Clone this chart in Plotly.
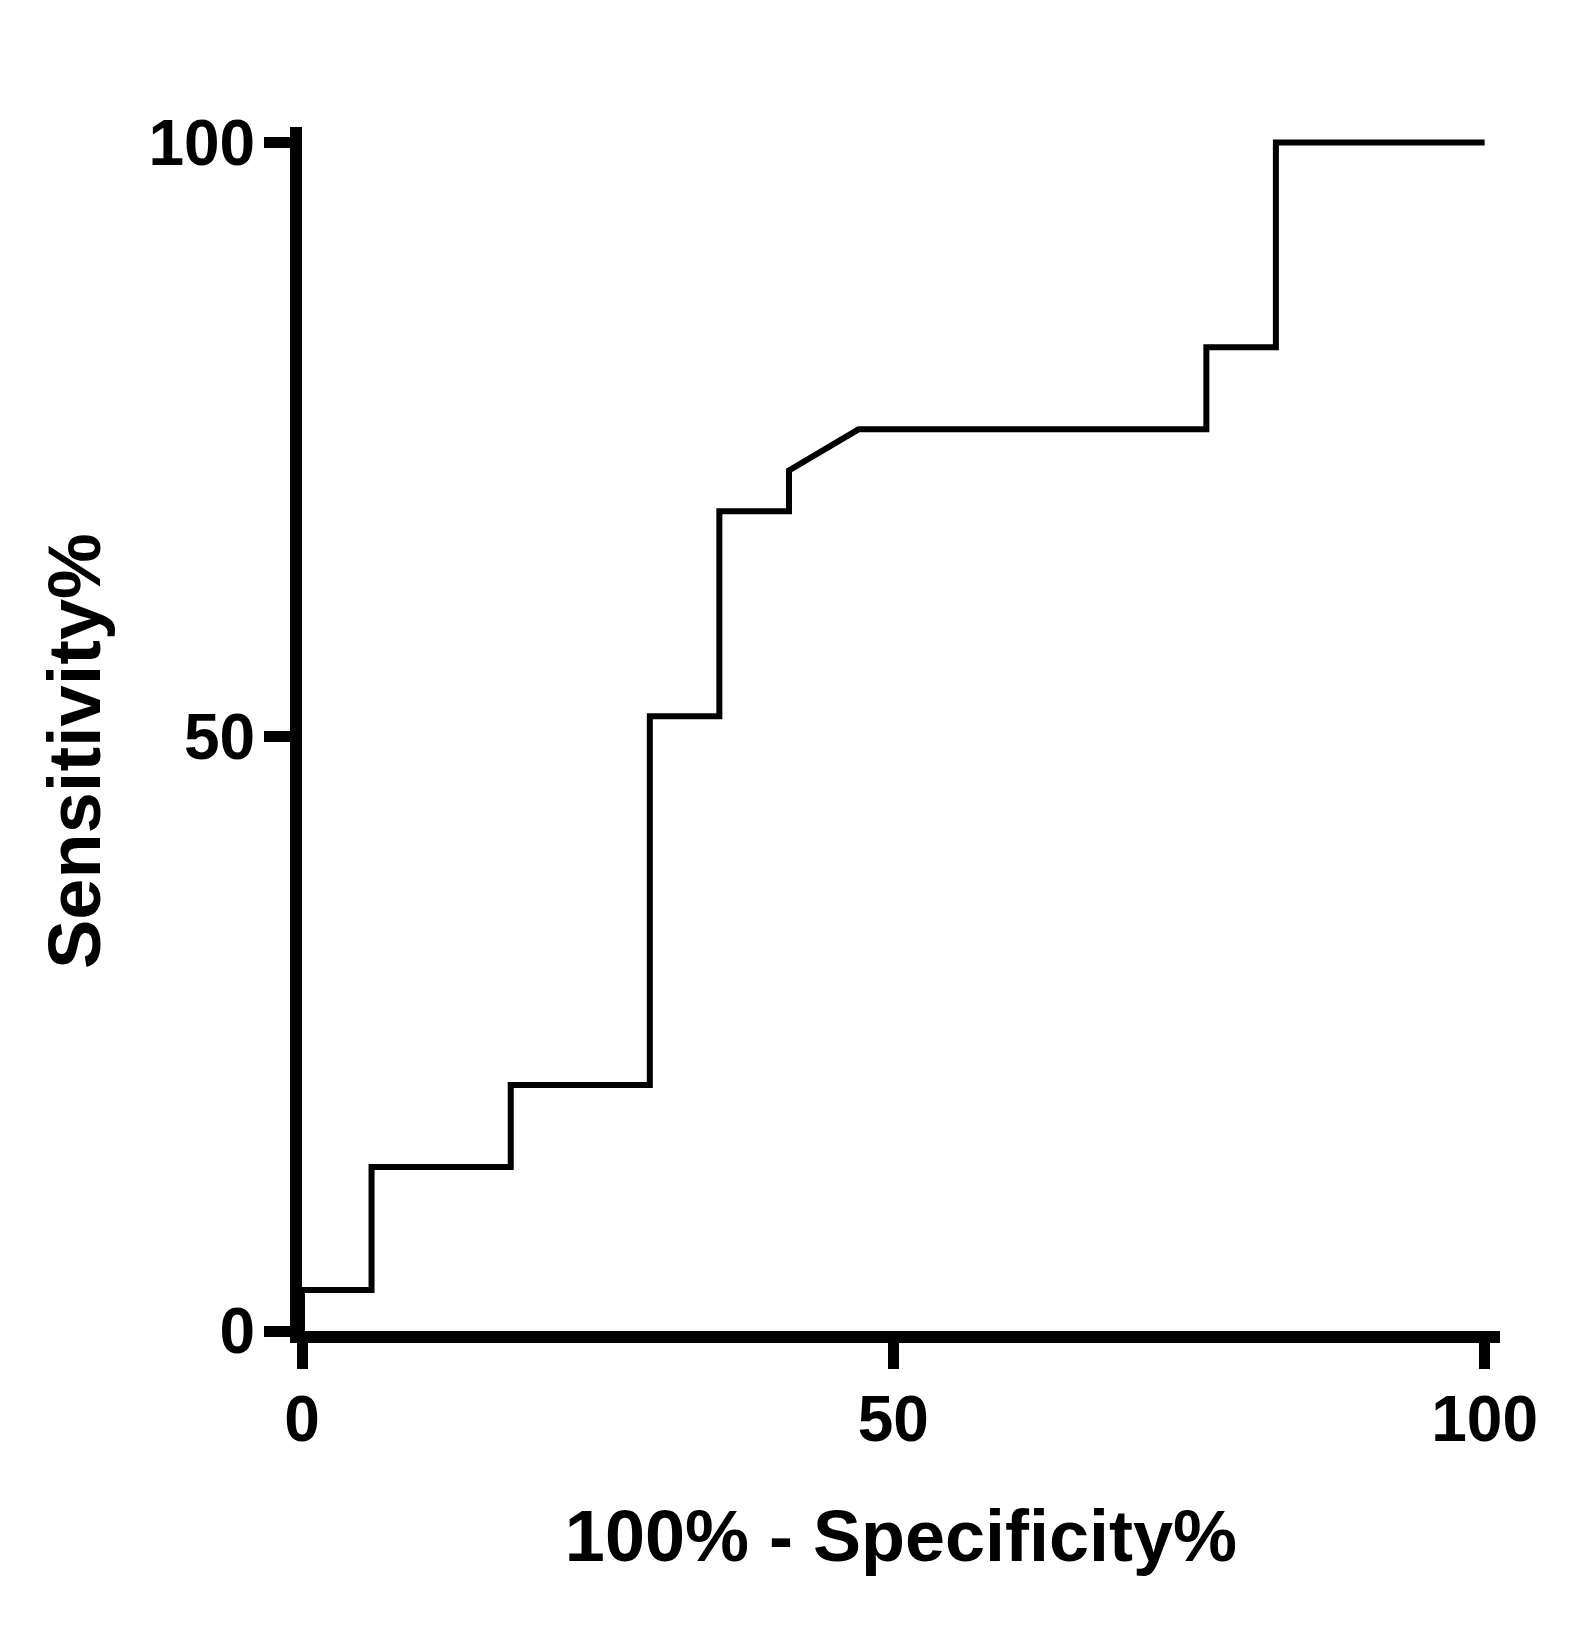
import plotly.graph_objects as go

# ROC curve points (100% - Specificity%, Sensitivity%)
fpr = [0, 0, 5.88, 5.88, 17.65, 17.65, 29.41, 29.41, 35.29, 35.29, 41.18, 41.18, 47.06, 76.47, 76.47, 82.35, 82.35, 100]
tpr = [0, 3.45, 3.45, 13.79, 13.79, 20.69, 20.69, 51.72, 51.72, 68.97, 68.97, 72.41, 75.86, 75.86, 82.76, 82.76, 100, 100]

tick_vals = [0, 50, 100]
tick_text = ["0", "50", "100"]

x_title = "100% - Specificity%"
y_title = "Sensitivity%"

fig = go.Figure()
fig.add_trace(go.Scatter(x=fpr, y=tpr, mode="lines",
                         line=dict(color="black", width=6), showlegend=False,
                         cliponaxis=False))

font_main = "Liberation Sans, Arial, sans-serif"
fig.update_layout(
    width=1588, height=1632,
    paper_bgcolor="white", plot_bgcolor="white",
    margin=dict(l=294, r=96, t=119, b=309),
    font=dict(family=font_main, color="black"),
    xaxis=dict(range=[0, 101.3], tickvals=tick_vals, ticktext=tick_text,
               showgrid=False, zeroline=False, showline=True, linecolor="black", linewidth=12,
               ticks="outside", ticklen=26, tickwidth=11, tickcolor="black",
               tickfont=dict(size=64, family=font_main, weight="bold"),
               ticklabelstandoff=-5,
               title=dict(text="<b>" + x_title + "</b>", font=dict(size=72), standoff=62)),
    yaxis=dict(range=[0, 101.3], tickvals=tick_vals, ticktext=tick_text,
               showgrid=False, zeroline=False, showline=True, linecolor="black", linewidth=12,
               ticks="outside", ticklen=26, tickwidth=11, tickcolor="black",
               tickfont=dict(size=64, family=font_main, weight="bold"),
               ticklabelstandoff=-4),
    annotations=[dict(text="<b>" + y_title + "</b>", xref="paper", yref="paper",
                      x=-0.19, y=0.482, xanchor="center", yanchor="middle",
                      textangle=-90, showarrow=False, font=dict(size=74, family=font_main))],
)

fig.write_html("out.html")
